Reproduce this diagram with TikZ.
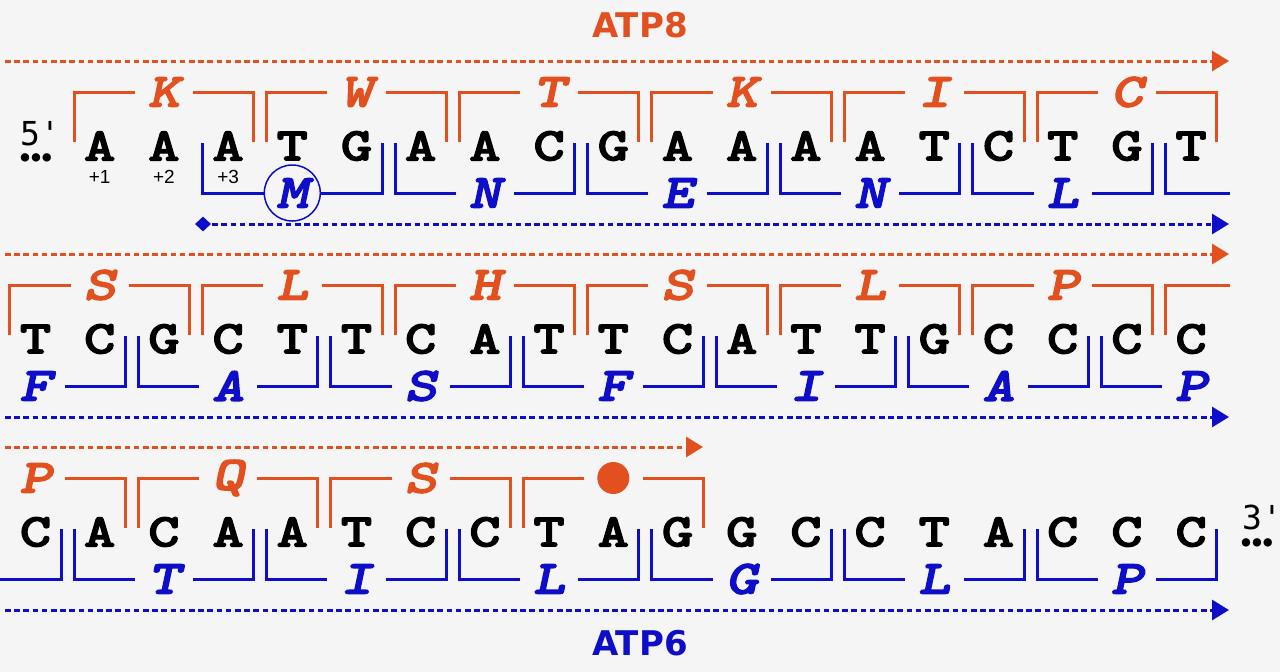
\documentclass[tikz,border=0pt]{standalone}
\usepackage{fontspec}
\usetikzlibrary{arrows.meta,shapes.geometric}
\newfontfamily\nucfont{lmmonolt10-bold.otf}[FakeStretch=1.28,FakeBold=2.5]
\newfontfamily\aafont{lmmonolt10-boldoblique.otf}[FakeStretch=1.28,FakeBold=2.5]
\newfontfamily\genefont{DejaVu Sans}
\newfontfamily\posfont{Liberation Sans}
\setmonofont{DejaVu Sans Mono}
\definecolor{oc}{RGB}{226,80,32}
\definecolor{bc}{RGB}{14,14,200}
\definecolor{bgc}{RGB}{245,245,245}
\newcommand\ocod[4]{%
  \node[olab] (#1) at ({35.5+64.2*(#3+1)},{92+#2}) {#4};
  \draw[obr] ({35.5+64.2*(#3-0.5)+6.5},{142+#2}) |- (#1.west);
  \draw[obr] (#1.east) -| ({35.5+64.2*(#3+2.5)-6.5},{142+#2});}
\newcommand\bcod[4]{%
  \node[blab] (#1) at ({35.5+64.2*(#3+1)},{193+#2}) {#4};
  \draw[bbr] ({35.5+64.2*(#3-0.5)+6.5},{143+#2}) |- (#1.west);
  \draw[bbr] (#1.east) -| ({35.5+64.2*(#3+2.5)-6.5},{143+#2});}
\begin{document}
\begin{tikzpicture}[x=1pt,y=-1pt,
  nuc/.style={font=\nucfont\fontsize{47}{47}\selectfont, inner sep=0pt, text=black},
  olab/.style={font=\aafont\fontsize{48}{48}\selectfont, text=oc, inner sep=0pt, minimum width=58pt},
  blab/.style={font=\aafont\fontsize{48}{48}\selectfont, text=bc, inner sep=0pt, minimum width=58pt},
  obr/.style={draw=oc, line width=3pt},
  bbr/.style={draw=bc, line width=3pt},
  oarr/.style={draw=oc, line width=3pt, dash pattern=on 5.5pt off 3.7pt, -{Triangle[length=17pt,width=20pt]}},
  barr/.style={draw=bc, line width=3pt, dash pattern=on 5.5pt off 3.7pt, -{Triangle[length=17pt,width=20pt]}},
  poslbl/.style={font=\posfont\fontsize{19}{19}\selectfont, inner sep=0pt},
  endlbl/.style={font=\ttfamily\fontsize{33}{33}\selectfont, inner sep=0pt, anchor=base west},
  enddots/.style={font=\ttfamily\fontsize{14}{14}\selectfont, inner sep=0pt},
  gene/.style={font=\genefont\bfseries\fontsize{34}{34}\selectfont, inner sep=0pt}]
\fill[bgc] (0,0) rectangle (1280,672);
\useasboundingbox (0,0) rectangle (1280,672);
% titles
\node[gene, text=oc] (atp8) at (640,25) {ATP8};
\node[gene, text=bc] (atp6) at (640,643) {ATP6};
% nucleotides
\foreach [count=\i from 1] \b in {A,A,A,T,G,A,A,C,G,A,A,A,A,T,C,T,G,T}
  \node[nuc] (a\i) at ({35.5+64.2*\i},146) {\b};
\foreach [count=\i from 0] \b in {T,C,G,C,T,T,C,A,T,T,C,A,T,T,G,C,C,C,C}
  \node[nuc] (b\i) at ({35.5+64.2*\i},339) {\b};
\foreach [count=\i from 0] \b in {C,A,C,A,A,T,C,C,T,A,G,G,C,C,T,A,C,C,C}
  \node[nuc] (c\i) at ({35.5+64.2*\i},532) {\b};
% positions
\node[poslbl] (p1) at ({35.5+64.2*1},177) {+1};
\node[poslbl] (p2) at ({35.5+64.2*2},177) {+2};
\node[poslbl] (p3) at ({35.5+64.2*3},177) {+3};
% ends
\node[endlbl] (five) at (20,145) {5'};
\node[enddots] (fived) at (36,158) {●\kern2.5pt●\kern2.5pt●};
\node[endlbl] (three) at (1242,529) {3'};
\node[enddots] (threed) at (1257,543) {●\kern2.5pt●\kern2.5pt●};
% ---- row 1
\coordinate (oa1s) at (5,61); \coordinate (oa1e) at (1229,61);
\draw[oarr] (oa1s) -- (oa1e);
\ocod{oK1}{0}{1}{K}\ocod{oW}{0}{4}{W}\ocod{oT}{0}{7}{T}
\ocod{oK2}{0}{10}{K}\ocod{oI}{0}{13}{I}\ocod{oC}{0}{16}{C}
\node[blab, circle, draw=bc, line width=1.5pt, minimum size=56pt] (bM) at ({35.5+64.2*4},193) {M};
\draw[bbr] ({35.5+64.2*2.5+6.5},143) |- (bM.west);
\draw[bbr] (bM.east) -| ({35.5+64.2*5.5-6.5},143);
\bcod{bN1}{0}{6}{N}\bcod{bE}{0}{9}{E}\bcod{bN2}{0}{12}{N}\bcod{bL1}{0}{15}{L}
\coordinate (t1) at (1230,193);
\draw[bbr] ({35.5+64.2*17.5+6.5},143) |- (t1);
\node[diamond, fill=bc, minimum width=16pt, minimum height=15pt, inner sep=0pt] (dia) at (203,224) {};
\coordinate (ba1e) at (1229,224);
\draw[barr] (dia.center) -- (ba1e);
% ---- row 2
\coordinate (oa2s) at (5,254); \coordinate (oa2e) at (1229,254);
\draw[oarr] (oa2s) -- (oa2e);
\ocod{oS1}{193}{0}{S}\ocod{oL2}{193}{3}{L}\ocod{oH}{193}{6}{H}
\ocod{oS2}{193}{9}{S}\ocod{oL3}{193}{12}{L}\ocod{oP1}{193}{15}{P}
\coordinate (t2) at (1230,285);
\draw[obr] ({35.5+64.2*17.5+6.5},335) |- (t2);
\node[blab] (bF1) at (35.5,386) {F};
\draw[bbr] (bF1.east) -| ({35.5+64.2*1.5-6.5},336);
\bcod{bA1}{193}{2}{A}\bcod{bS}{193}{5}{S}\bcod{bF2}{193}{8}{F}
\bcod{bI1}{193}{11}{I}\bcod{bA2}{193}{14}{A}
\node[blab] (bP1) at ({35.5+64.2*18},386) {P};
\draw[bbr] ({35.5+64.2*16.5+6.5},336) |- (bP1.west);
\coordinate (ba2s) at (5,417); \coordinate (ba2e) at (1229,417);
\draw[barr] (ba2s) -- (ba2e);
% ---- row 3
\coordinate (oa3s) at (5,447); \coordinate (oa3e) at (703,447);
\draw[oarr] (oa3s) -- (oa3e);
\node[olab] (oP2) at (35.5,478) {P};
\draw[obr] (oP2.east) -| ({35.5+64.2*1.5-6.5},528);
\ocod{oQ}{386}{2}{Q}\ocod{oS3}{386}{5}{S}
\node[circle, fill=oc, minimum size=32pt, inner sep=0pt] (stop) at ({35.5+64.2*9},478) {};
\draw[obr] ({35.5+64.2*7.5+6.5},528) |- ([xshift=-13pt]stop.west);
\draw[obr] ([xshift=13pt]stop.east) -| ({35.5+64.2*10.5-6.5},528);
\coordinate (t3) at (0,579);
\draw[bbr] (t3) -| ({35.5+64.2*0.5-6.5},529);
\bcod{bT}{386}{1}{T}\bcod{bI2}{386}{4}{I}\bcod{bL2}{386}{7}{L}
\bcod{bG}{386}{10}{G}\bcod{bL3}{386}{13}{L}\bcod{bP2}{386}{16}{P}
\coordinate (ba3s) at (5,610); \coordinate (ba3e) at (1229,610);
\draw[barr] (ba3s) -- (ba3e);
\end{tikzpicture}
\end{document}
